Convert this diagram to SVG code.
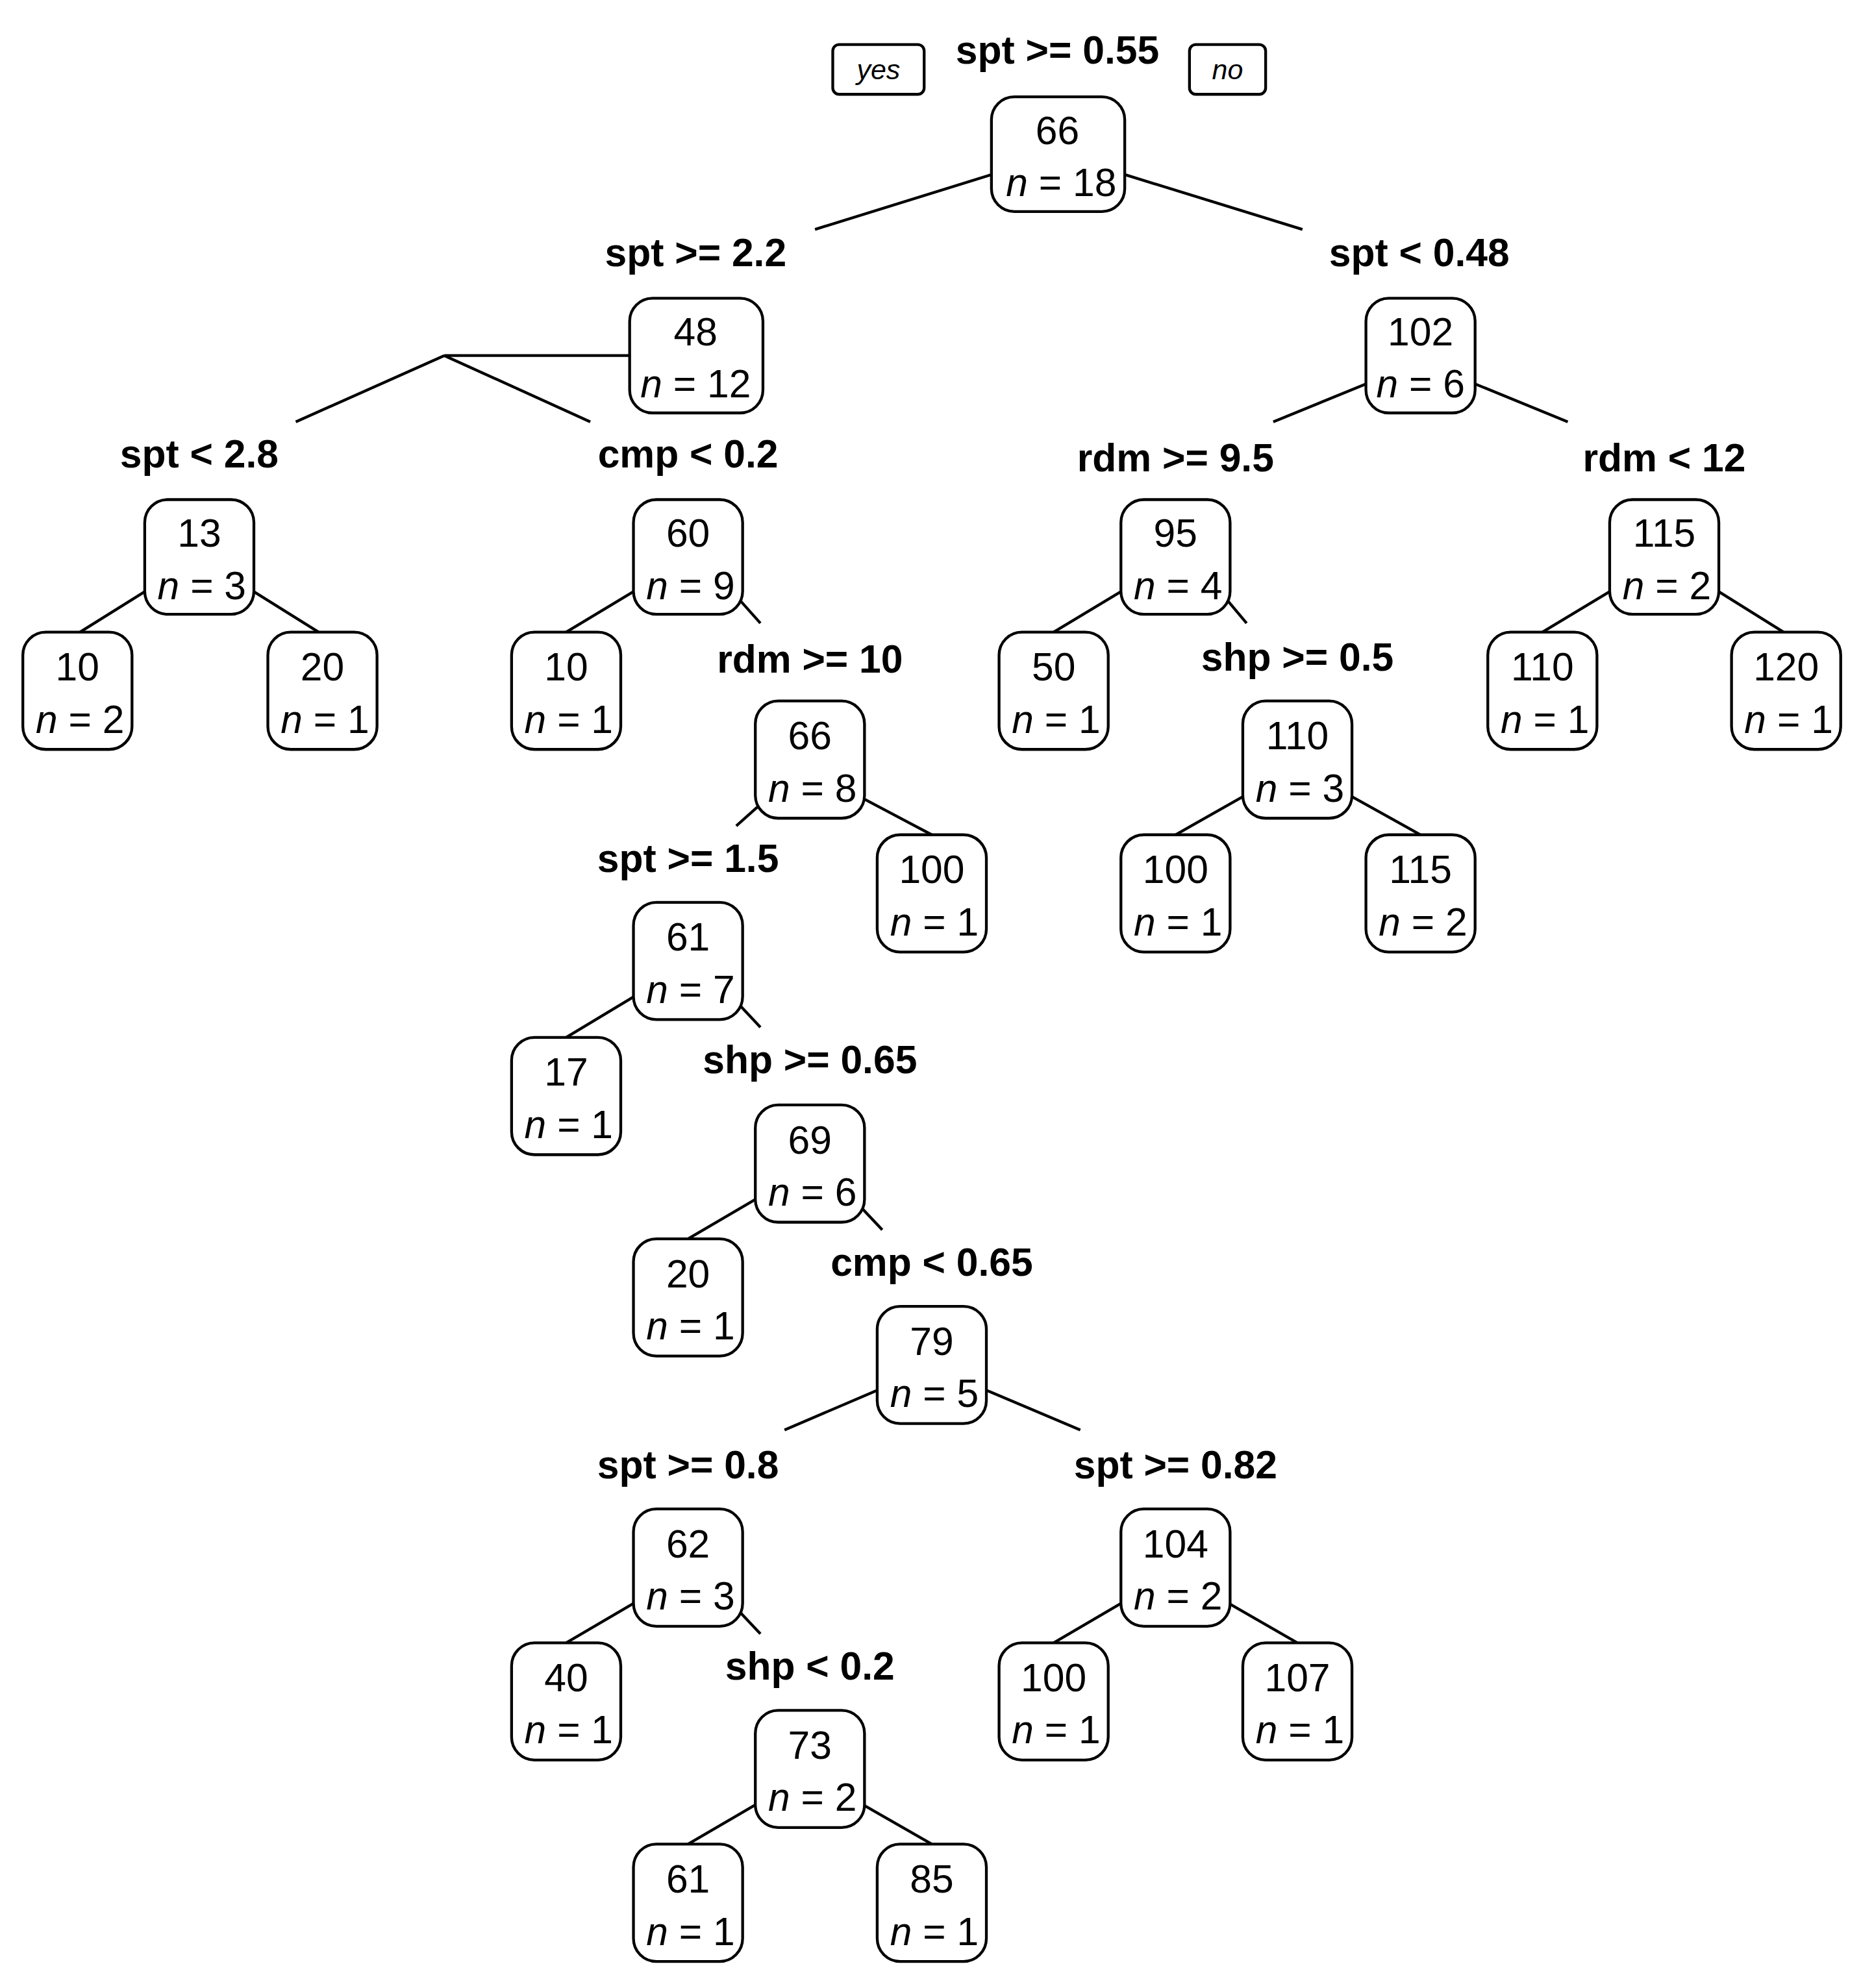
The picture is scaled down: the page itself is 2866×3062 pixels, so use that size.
<svg xmlns="http://www.w3.org/2000/svg" width="2866" height="3062" viewBox="0 0 2866 3062">
<style>
.b{fill:#fff;stroke:#000;stroke-width:2.2}
.t{font-family:"Liberation Sans",Arial,sans-serif;font-size:31px;text-anchor:middle;fill:#000}
.s{font-family:"Liberation Sans",Arial,sans-serif;font-size:31px;font-weight:bold;text-anchor:middle;fill:#000}
.i{font-style:italic}
.y{font-family:"Liberation Sans",Arial,sans-serif;font-size:22px;font-style:italic;text-anchor:middle}
#edges line{stroke:#000;stroke-width:2.2}
</style>
<rect width="2866" height="3062" fill="#fff"/>
<g transform="scale(1.955,1.963)">
<g id="edges">
<line x1="781" y1="137" x2="642" y2="180"/><line x1="886" y1="137" x2="1026" y2="180"/>
<line x1="496" y1="279" x2="350" y2="279"/><line x1="350" y1="279" x2="233" y2="331"/><line x1="350" y1="279" x2="465" y2="331"/>
<line x1="1079" y1="300" x2="1003" y2="331"/><line x1="1159" y1="300" x2="1235" y2="331"/>
<line x1="116" y1="463" x2="63" y2="496"/><line x1="198" y1="463" x2="251" y2="496"/>
<line x1="501" y1="463" x2="446" y2="496"/><line x1="582" y1="470" x2="599" y2="489"/>
<line x1="885" y1="463" x2="830" y2="496"/><line x1="966" y1="470" x2="982" y2="489"/>
<line x1="1270" y1="463" x2="1215" y2="496"/><line x1="1352" y1="463" x2="1405" y2="496"/>
<line x1="598" y1="632" x2="580" y2="648"/><line x1="679" y1="626" x2="734" y2="655"/>
<line x1="981" y1="624" x2="926" y2="655"/><line x1="1063" y1="624" x2="1119" y2="655"/>
<line x1="501" y1="781" x2="446" y2="814"/><line x1="582" y1="788" x2="599" y2="806"/>
<line x1="597" y1="940" x2="542" y2="972"/><line x1="678" y1="947" x2="695" y2="965"/>
<line x1="693" y1="1090" x2="618" y2="1122"/><line x1="775" y1="1090" x2="851" y2="1122"/>
<line x1="501" y1="1257" x2="446" y2="1289"/><line x1="582" y1="1264" x2="599" y2="1282"/>
<line x1="885" y1="1257" x2="830" y2="1289"/><line x1="966" y1="1257" x2="1022" y2="1289"/>
<line x1="597" y1="1415" x2="542" y2="1447"/><line x1="678" y1="1415" x2="734" y2="1447"/>
</g>
<g id="yesno"><rect class="b" x="656" y="35" width="72" height="39" rx="5"/><text class="y" x="692" y="62">yes</text>
<rect class="b" x="937" y="35" width="60" height="39" rx="5"/><text class="y" x="967" y="62">no</text></g>
<g id="labels">
<text class="s" x="833" y="50">spt &gt;= 0.55</text>
<text class="s" x="548" y="209">spt &gt;= 2.2</text>
<text class="s" x="1118" y="209">spt &lt; 0.48</text>
<text class="s" x="157" y="367">spt &lt; 2.8</text>
<text class="s" x="542" y="367">cmp &lt; 0.2</text>
<text class="s" x="926" y="370">rdm &gt;= 9.5</text>
<text class="s" x="1311" y="370">rdm &lt; 12</text>
<text class="s" x="638" y="528">rdm &gt;= 10</text>
<text class="s" x="1022" y="526">shp &gt;= 0.5</text>
<text class="s" x="542" y="684">spt &gt;= 1.5</text>
<text class="s" x="638" y="842">shp &gt;= 0.65</text>
<text class="s" x="734" y="1001">cmp &lt; 0.65</text>
<text class="s" x="542" y="1160">spt &gt;= 0.8</text>
<text class="s" x="926" y="1160">spt &gt;= 0.82</text>
<text class="s" x="638" y="1318">shp &lt; 0.2</text>
</g>
<g id="n1"><rect class="b" x="781" y="76" width="105" height="90" rx="18"/><text class="t" x="833" y="113">66</text><text class="t" x="836" y="154"><tspan class="i">n</tspan> = 18</text></g>
<g id="n2"><rect class="b" x="496" y="234" width="105" height="90" rx="18"/><text class="t" x="548" y="271">48</text><text class="t" x="548" y="312"><tspan class="i">n</tspan> = 12</text></g>
<g id="n3"><rect class="b" x="1076" y="234" width="86" height="90" rx="18"/><text class="t" x="1119" y="271">102</text><text class="t" x="1119" y="312"><tspan class="i">n</tspan> = 6</text></g>
<g id="n4"><rect class="b" x="114" y="392" width="86" height="90" rx="18"/><text class="t" x="157" y="429">13</text><text class="t" x="159" y="470"><tspan class="i">n</tspan> = 3</text></g>
<g id="n5"><rect class="b" x="499" y="392" width="86" height="90" rx="18"/><text class="t" x="542" y="429">60</text><text class="t" x="544" y="470"><tspan class="i">n</tspan> = 9</text></g>
<g id="n6"><rect class="b" x="883" y="392" width="86" height="90" rx="18"/><text class="t" x="926" y="429">95</text><text class="t" x="928" y="470"><tspan class="i">n</tspan> = 4</text></g>
<g id="n7"><rect class="b" x="1268" y="392" width="86" height="90" rx="18"/><text class="t" x="1311" y="429">115</text><text class="t" x="1313" y="470"><tspan class="i">n</tspan> = 2</text></g>
<g id="n8"><rect class="b" x="18" y="496" width="86" height="92" rx="18"/><text class="t" x="61" y="534">10</text><text class="t" x="63" y="575"><tspan class="i">n</tspan> = 2</text></g>
<g id="n9"><rect class="b" x="211" y="496" width="86" height="92" rx="18"/><text class="t" x="254" y="534">20</text><text class="t" x="256" y="575"><tspan class="i">n</tspan> = 1</text></g>
<g id="n10"><rect class="b" x="403" y="496" width="86" height="92" rx="18"/><text class="t" x="446" y="534">10</text><text class="t" x="448" y="575"><tspan class="i">n</tspan> = 1</text></g>
<g id="n11"><rect class="b" x="787" y="496" width="86" height="92" rx="18"/><text class="t" x="830" y="534">50</text><text class="t" x="832" y="575"><tspan class="i">n</tspan> = 1</text></g>
<g id="n12"><rect class="b" x="1172" y="496" width="86" height="92" rx="18"/><text class="t" x="1215" y="534">110</text><text class="t" x="1217" y="575"><tspan class="i">n</tspan> = 1</text></g>
<g id="n13"><rect class="b" x="1364" y="496" width="86" height="92" rx="18"/><text class="t" x="1407" y="534">120</text><text class="t" x="1409" y="575"><tspan class="i">n</tspan> = 1</text></g>
<g id="n14"><rect class="b" x="595" y="550" width="86" height="92" rx="18"/><text class="t" x="638" y="588">66</text><text class="t" x="640" y="629"><tspan class="i">n</tspan> = 8</text></g>
<g id="n15"><rect class="b" x="979" y="550" width="86" height="92" rx="18"/><text class="t" x="1022" y="588">110</text><text class="t" x="1024" y="629"><tspan class="i">n</tspan> = 3</text></g>
<g id="n16"><rect class="b" x="691" y="655" width="86" height="92" rx="18"/><text class="t" x="734" y="693">100</text><text class="t" x="736" y="734"><tspan class="i">n</tspan> = 1</text></g>
<g id="n17"><rect class="b" x="883" y="655" width="86" height="92" rx="18"/><text class="t" x="926" y="693">100</text><text class="t" x="928" y="734"><tspan class="i">n</tspan> = 1</text></g>
<g id="n18"><rect class="b" x="1076" y="655" width="86" height="92" rx="18"/><text class="t" x="1119" y="693">115</text><text class="t" x="1121" y="734"><tspan class="i">n</tspan> = 2</text></g>
<g id="n19"><rect class="b" x="499" y="708" width="86" height="92" rx="18"/><text class="t" x="542" y="746">61</text><text class="t" x="544" y="787"><tspan class="i">n</tspan> = 7</text></g>
<g id="n20"><rect class="b" x="403" y="814" width="86" height="92" rx="18"/><text class="t" x="446" y="852">17</text><text class="t" x="448" y="893"><tspan class="i">n</tspan> = 1</text></g>
<g id="n21"><rect class="b" x="595" y="867" width="86" height="92" rx="18"/><text class="t" x="638" y="905">69</text><text class="t" x="640" y="946"><tspan class="i">n</tspan> = 6</text></g>
<g id="n22"><rect class="b" x="499" y="972" width="86" height="92" rx="18"/><text class="t" x="542" y="1010">20</text><text class="t" x="544" y="1051"><tspan class="i">n</tspan> = 1</text></g>
<g id="n23"><rect class="b" x="691" y="1025" width="86" height="92" rx="18"/><text class="t" x="734" y="1063">79</text><text class="t" x="736" y="1104"><tspan class="i">n</tspan> = 5</text></g>
<g id="n24"><rect class="b" x="499" y="1184" width="86" height="92" rx="18"/><text class="t" x="542" y="1222">62</text><text class="t" x="544" y="1263"><tspan class="i">n</tspan> = 3</text></g>
<g id="n25"><rect class="b" x="883" y="1184" width="86" height="92" rx="18"/><text class="t" x="926" y="1222">104</text><text class="t" x="928" y="1263"><tspan class="i">n</tspan> = 2</text></g>
<g id="n26"><rect class="b" x="403" y="1289" width="86" height="92" rx="18"/><text class="t" x="446" y="1327">40</text><text class="t" x="448" y="1368"><tspan class="i">n</tspan> = 1</text></g>
<g id="n27"><rect class="b" x="595" y="1342" width="86" height="92" rx="18"/><text class="t" x="638" y="1380">73</text><text class="t" x="640" y="1421"><tspan class="i">n</tspan> = 2</text></g>
<g id="n28"><rect class="b" x="787" y="1289" width="86" height="92" rx="18"/><text class="t" x="830" y="1327">100</text><text class="t" x="832" y="1368"><tspan class="i">n</tspan> = 1</text></g>
<g id="n29"><rect class="b" x="979" y="1289" width="86" height="92" rx="18"/><text class="t" x="1022" y="1327">107</text><text class="t" x="1024" y="1368"><tspan class="i">n</tspan> = 1</text></g>
<g id="n30"><rect class="b" x="499" y="1447" width="86" height="92" rx="18"/><text class="t" x="542" y="1485">61</text><text class="t" x="544" y="1526"><tspan class="i">n</tspan> = 1</text></g>
<g id="n31"><rect class="b" x="691" y="1447" width="86" height="92" rx="18"/><text class="t" x="734" y="1485">85</text><text class="t" x="736" y="1526"><tspan class="i">n</tspan> = 1</text></g>
</g>
</svg>
